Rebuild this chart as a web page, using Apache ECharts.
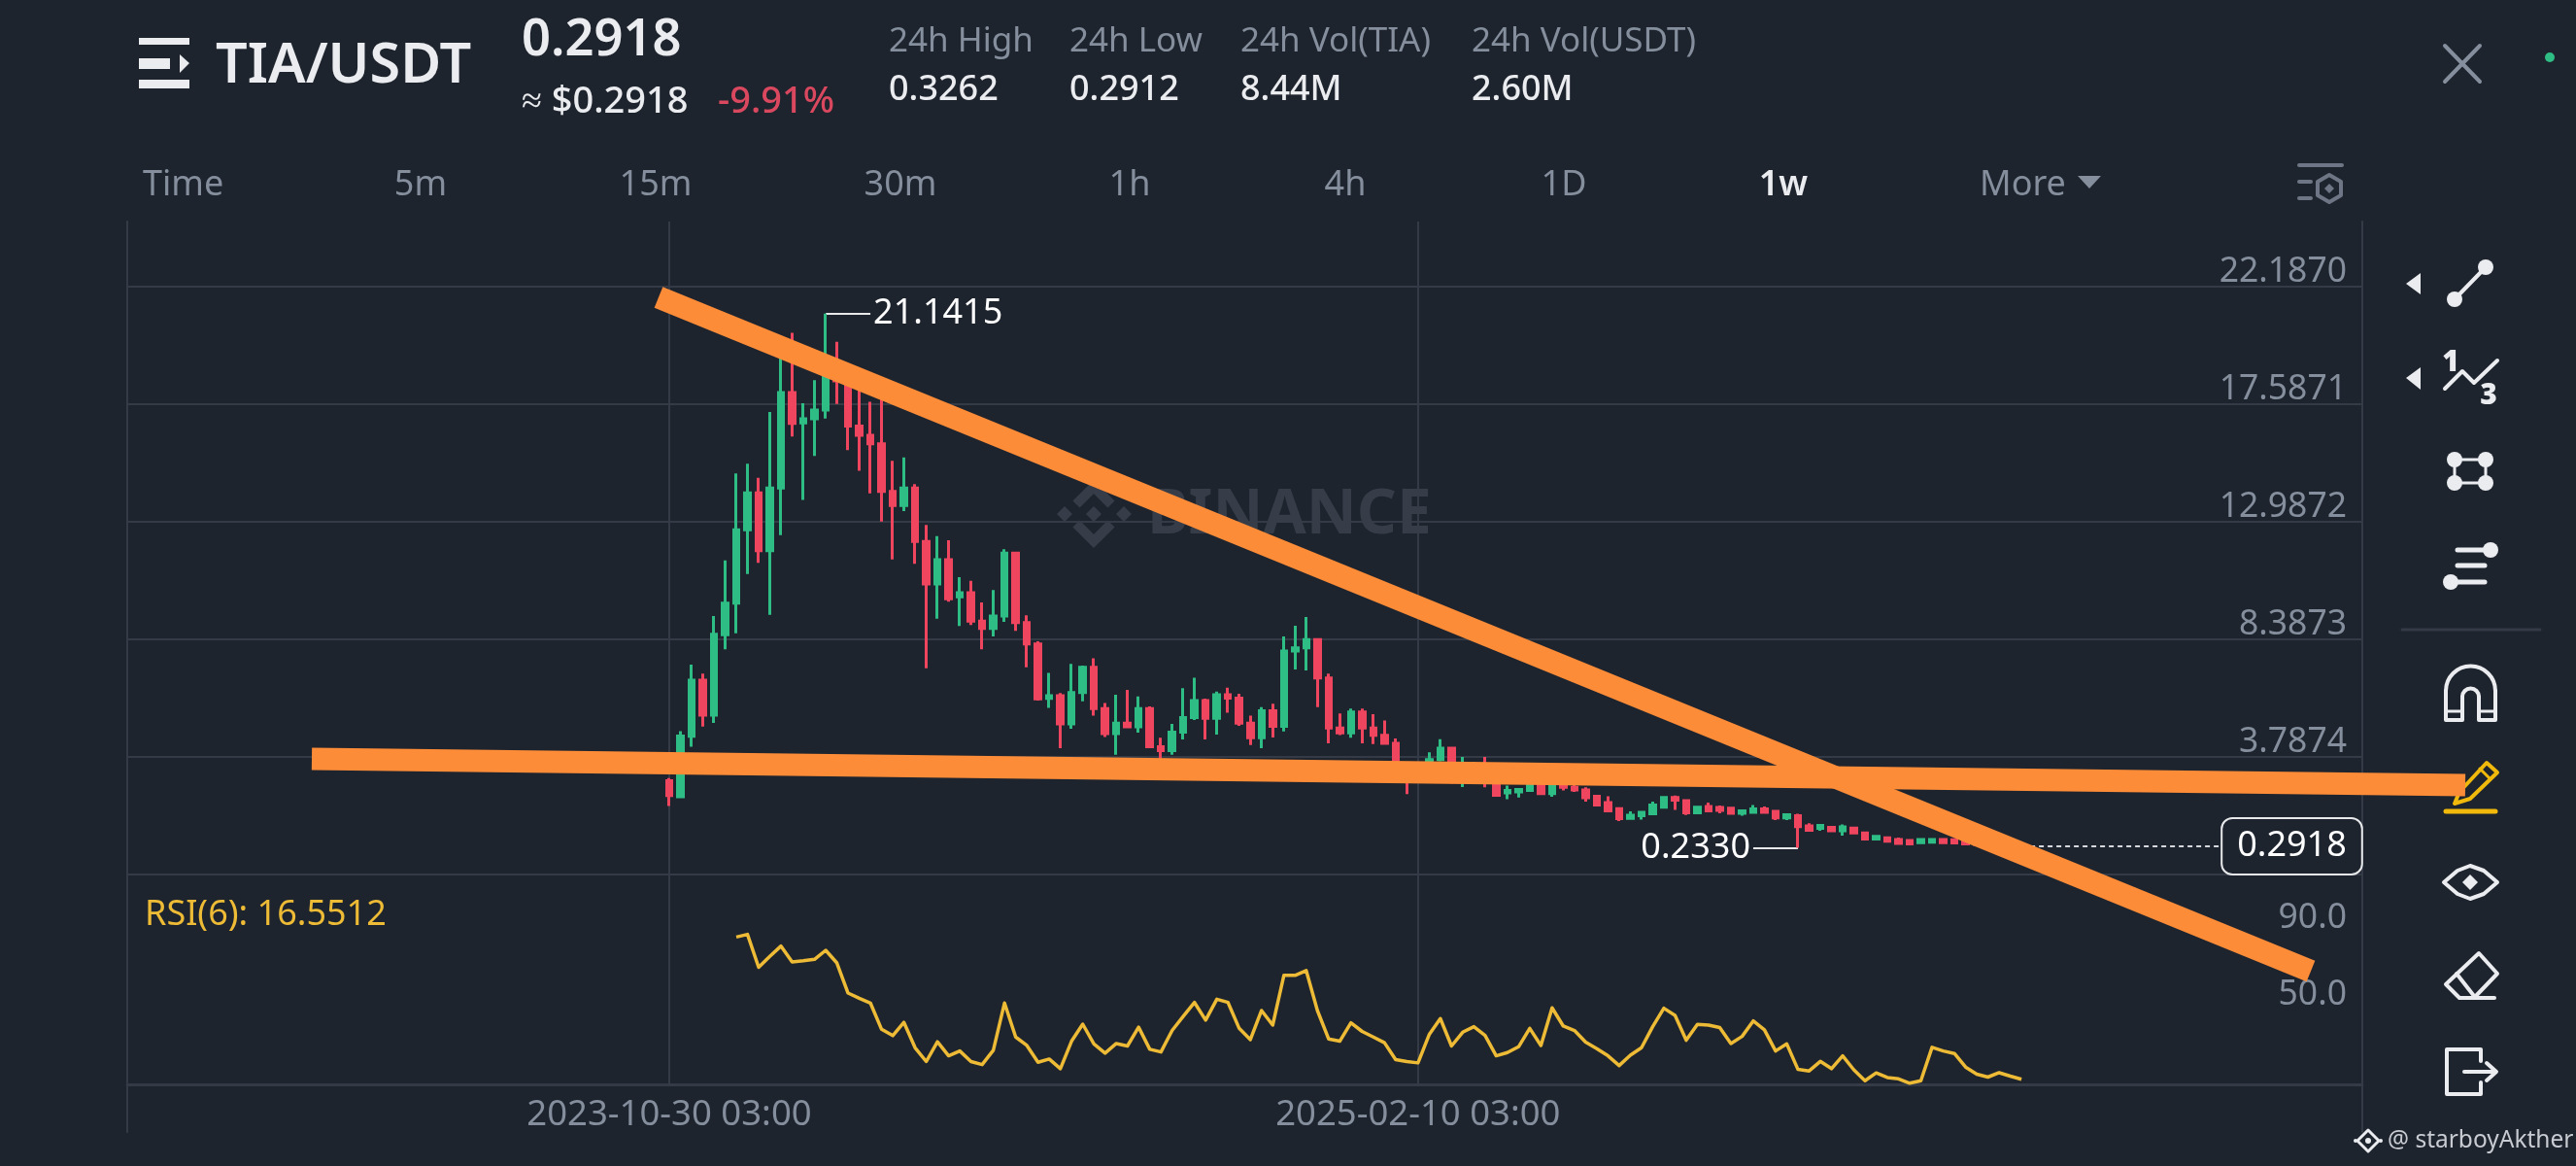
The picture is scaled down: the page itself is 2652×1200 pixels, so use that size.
<!DOCTYPE html>
<html><head><meta charset="utf-8">
<style>html,body{margin:0;padding:0;background:#1E242E}#c{width:2652px;height:1200px}</style>
<script src="https://cdn.jsdelivr.net/npm/echarts@6/dist/echarts.min.js"></script>
</head><body><div id="c"></div>
<script>
const firstCandleDate = '2023-10-30';
const leadingSlots = 48, totalSlots = 200, rsiStart = 6;
const opens = [2.86,2.23,4.60,6.79,5.42,8.57,9.81,12.68,14.12,11.86,14.31,18.05,16.86,17.02,17.36,18.77,18.5,16.74,16.37,16.04,14.18,13.63,14.31,12.22,10.56,11.51,10.05,10.21,9.10,8.82,9.30,11.76,9.05,8.21,6.08,6.18,5.08,6.31,7.30,5.68,4.70,5.11,4.97,5.68,4.19,4.04,4.76,5.33,5.99,5.30,6.22,6.09,5.11,4.54,5.59,4.99,7.93,8.06,8.38,6.88,4.92,4.73,5.55,4.92,4.63,4.32,3.52,3.0,3.2,3.68,4.13,2.9,3.1,3.2,2.9,2.38,2.42,2.48,2.67,2.35,2.67,2.60,2.5,2.25,2.00,1.76,1.38,1.49,1.56,1.82,2.20,2.08,1.60,1.85,1.81,1.78,1.58,1.62,1.75,1.66,1.40,1.49,1.09,0.99,1.03,0.90,1.0,0.81,0.58,0.62,0.56,0.52,0.43,0.45,0.56,0.55,0.48,0.39,0.37,0.38,0.35,0.3239];
const closes = [2.28,4.61,6.79,5.42,8.59,9.81,12.68,14.12,11.86,14.31,18.05,16.84,17.02,17.36,18.77,18.5,16.74,16.37,16.04,14.18,13.63,14.31,12.22,10.56,11.51,9.98,10.21,9.10,8.82,9.30,11.76,9.05,8.21,6.06,6.18,5.08,6.31,7.30,5.68,4.70,5.11,4.97,5.68,4.19,4.04,4.76,5.33,5.99,5.30,6.22,6.09,5.11,4.54,5.59,4.99,7.93,8.06,8.38,6.88,4.92,4.73,5.55,4.92,4.63,4.32,3.52,3.0,3.2,3.68,4.13,2.9,3.1,3.2,2.9,2.29,2.48,2.51,2.67,2.35,2.67,2.60,2.5,2.19,1.91,1.68,1.37,1.51,1.62,1.91,2.20,2.10,1.60,1.82,1.68,1.70,1.58,1.68,1.75,1.62,1.40,1.53,1.06,0.92,1.11,0.90,1.05,0.81,0.58,0.68,0.49,0.40,0.39,0.56,0.56,0.43,0.42,0.39,0.37,0.38,0.35,0.3239,0.2918];
const lows = [1.87,2.19,4.19,4.98,5.12,8.0,8.63,10.95,11.38,9.35,12.47,16.33,13.85,15.57,17.03,17.6,15.79,14.99,14.10,13.0,11.52,13.41,11.35,7.26,9.2,9.86,8.91,8.95,8.0,8.5,9.07,8.72,7.30,5.99,5.71,4.13,4.89,5.97,5.40,4.57,3.87,4.95,4.74,4.13,3.68,3.87,4.47,5.23,4.47,4.66,5.52,5.01,4.25,4.13,4.55,4.79,7.21,7.17,5.74,4.32,4.64,4.54,4.32,4.29,4.32,3.3,2.33,2.8,3.0,3.62,2.75,2.61,2.8,2.6,2.27,2.13,2.20,2.46,2.32,2.23,2.48,2.42,2.04,1.87,1.66,1.28,1.37,1.34,1.52,1.77,1.72,1.52,1.56,1.66,1.58,1.58,1.49,1.62,1.62,1.32,1.32,0.2330,0.92,0.90,0.86,0.71,0.81,0.56,0.57,0.48,0.40,0.38,0.40,0.44,0.42,0.41,0.38,0.36,0.36,0.34,0.32,0.2912];
const highs = [2.96,4.80,7.40,7.05,9.30,11.48,14.88,15.26,14.71,17.29,20.29,20.39,17.63,18.53,21.1415,20.03,18.84,18.2,17.69,17.88,15.38,15.51,14.46,12.87,12.43,12.27,10.82,10.68,9.83,10.32,11.92,11.80,9.33,8.31,7.08,6.29,7.43,7.36,7.65,5.90,6.22,6.41,6.16,5.77,4.54,5.08,6.48,6.89,6.07,6.35,6.50,6.26,5.40,5.74,5.87,8.50,8.92,9.26,8.40,7.05,5.49,5.68,5.68,5.46,5.21,4.51,3.6,3.3,3.97,4.48,4.13,3.79,3.6,3.79,3.0,2.67,2.57,2.9,2.9,2.85,2.85,2.8,2.6,2.29,2.25,1.82,1.66,1.65,2.04,2.25,2.28,2.10,1.85,2.0,1.89,1.81,1.70,1.91,1.85,1.66,1.55,1.56,1.19,1.13,1.07,1.15,1.06,0.83,0.69,0.65,0.63,0.54,0.57,0.57,0.60,0.60,0.5,0.41,0.40,0.39,0.36,0.3262];
const rsiValues = [90.7,92.1,74.9,80.6,86.0,77.7,78.3,79.1,83.8,77.2,61.5,58.8,56.3,42.6,39.3,46.2,33.0,25.8,36.1,28.8,31.3,25.8,24.2,31.7,56.3,38.6,34.2,25.4,27.1,22.1,36.4,45.3,35.0,30.2,35.2,33.9,43.7,32.2,30.8,42.0,49.4,56.6,47.4,58.3,56.6,43.1,37.2,52.4,44.8,70.7,70.7,73.2,52.4,37.6,36.4,46.0,41.5,38.6,35.6,26.8,25.8,25.1,39.8,48.2,33.9,41.1,44.0,39.4,28.8,30.5,33.5,43.1,34.2,53.8,44.3,42.0,35.9,32.5,28.8,23.7,29.1,33.0,44.0,53.6,49.9,36.9,45.2,44.8,43.5,35.2,38.9,47.0,42.3,31.3,35.0,21.7,20.9,25.9,22.1,28.8,21.5,15.8,19.9,17.5,16.8,14.5,15.8,33.2,31.3,30.0,22.9,19.2,17.7,20.0,18.2,16.55];
const priceTicks = [22.187,17.5871,12.9872,8.3873,3.7874];
const priceFloor = -0.8125;
const rsiTicks = [90,50];
const dateLabelIndex = [48,115];
const lastPrice = 0.2918, peakPrice = 21.1415, troughPrice = 0.2330;
const rsiLabel = 'RSI(6): 16.5512';
const pair = 'TIA/USDT', priceText = '0.2918', usdText = '≈ $0.2918', changeText = '-9.91%';
const statLabels = ['24h High','24h Low','24h Vol(TIA)','24h Vol(USDT)'];
const statValues = ['0.3262','0.2912','8.44M','2.60M'];
const tabs = ['Time','5m','15m','30m','1h','4h','1D','1w','More'];

const categories = [];
{ const t0 = Date.UTC(2023,9,30) - leadingSlots*7*864e5;
  for (let i=0;i<totalSlots;i++) categories.push(new Date(t0+i*7*864e5).toISOString().slice(0,10)); }
const pad = Array(leadingSlots).fill('-');
const candleData = pad.concat(opens.map((o,i)=>[o,closes[i],lows[i],highs[i]]));
const rsiData = Array(leadingSlots+rsiStart).fill('-').concat(rsiValues);

const BG='#1E242E', GRID='#343B47', GREY='#848E9C', WHITE='#EAECEF', GREEN='#2EBD85', RED='#F0455F', YEL='#EDBB35', ORG='#FD8C38', Y2='#F0B90B';
const FF='"Noto Sans"';
const T=(x,y,text,size,fill,opt={})=>({type:'text',x,y,silent:true,z:opt.z||50,style:{text,fontFamily:FF,fontSize:size,fontWeight:opt.w||400,fill,align:opt.a||'left',verticalAlign:'middle'}});
const L=(x1,y1,x2,y2,c,w,z=50,cap='round')=>({type:'line',silent:true,z,shape:{x1,y1,x2,y2},style:{stroke:c,lineWidth:w,lineCap:cap}});
const PL=(pts,c,w,z=50,cap='round',join='round')=>({type:'polyline',silent:true,z,shape:{points:pts},style:{stroke:c,lineWidth:w,fill:null,lineJoin:join,lineCap:cap}});
const PG=(pts,fill,stroke,w,z=50)=>({type:'polygon',silent:true,z,shape:{points:pts},style:{fill:fill||null,stroke:stroke||null,lineWidth:w||0,lineJoin:'round'}});
const C=(cx,cy,r,fill,z=50)=>({type:'circle',silent:true,z,shape:{cx,cy,r},style:{fill}});
const R=(x,y,width,height,fill,z=50)=>({type:'rect',silent:true,z,shape:{x,y,width,height},style:{fill}});
const A=(cx,cy,r,s,e,c,w,z=50)=>({type:'arc',silent:true,z,shape:{cx,cy,r,startAngle:s,endAngle:e,clockwise:true},style:{stroke:c,lineWidth:w,fill:null}});

const WM='#363D48', ICON='#6E7685';
const graphics = [
  // frame
  L(131,228,131,1165,GRID,2,1), L(2432,228,2432,1165,GRID,2,1),
  // header
  R(143,39,52,7,WHITE),R(143,60,32,11,WHITE),PG([[185,56],[195,65],[185,75]],WHITE),R(143,82,52,9,WHITE),
  T(222,69,pair,57.5,WHITE,{w:600}),
  T(537,42,priceText,52.5,WHITE,{w:600}),
  T(537,105,usdText,38,WHITE,{w:500}),
  T(739,105,changeText,38,'#D9485F',{w:500}),
  T(915,43,statLabels[0],35,GREY),T(1101,43,statLabels[1],35,GREY),T(1277,43,statLabels[2],35,GREY),T(1515,43,statLabels[3],35,GREY),
  T(915,93,statValues[0],36,WHITE,{w:500}),T(1101,93,statValues[1],36,WHITE,{w:500}),T(1277,93,statValues[2],36,WHITE,{w:500}),T(1515,93,statValues[3],36,WHITE,{w:500}),
  L(2517,47,2553,84,GREY,4),L(2553,47,2517,84,GREY,4),
  C(2625,59,5,'#2EBD85'),
  // tabs
  T(147,191,tabs[0],36,GREY),
  T(433,191,tabs[1],36,GREY,{a:'center'}),T(675,191,tabs[2],36,GREY,{a:'center'}),T(927,191,tabs[3],36,GREY,{a:'center'}),
  T(1163,191,tabs[4],36,GREY,{a:'center'}),T(1385,191,tabs[5],36,GREY,{a:'center'}),T(1610,191,tabs[6],36,GREY,{a:'center'}),
  T(1836,191,tabs[7],36,WHITE,{a:'center',w:600}),T(2038,191,tabs[8],36,GREY),
  PG([[2139,181],[2163,181],[2151,194]],GREY),
  // settings icon
  L(2367,170,2411,170,ICON,4),L(2367,187,2379,187,ICON,4),L(2367,204,2379,204,ICON,4),
  PG([[2398,180],[2410,187],[2410,201],[2398,208],[2386,201],[2386,187]],null,ICON,4),PG([[2398,189],[2403,194],[2398,199],[2393,194]],ICON),
  // RSI text
  T(149,942,rsiLabel,36,YEL),
  // toolbar
  PG([[2477,292],[2492,281],[2492,303]],WHITE),L(2527,308,2559,275,WHITE,4),C(2527,308,8,WHITE),C(2559,275,8,WHITE),
  PG([[2477,389],[2492,378],[2492,401]],WHITE),PL([[2517,400],[2535,382],[2547,394],[2571,371]],WHITE,4),
  T(2523,373,'1',30,WHITE,{w:900,a:'center'}),T(2562,407,'3',30,WHITE,{w:900,a:'center'}),
  L(2527,473,2559,473,WHITE,3),L(2527,497,2559,497,WHITE,3),L(2527,473,2527,497,WHITE,3),L(2559,473,2559,497,WHITE,3),
  C(2527,473,8,WHITE),C(2559,473,8,WHITE),C(2527,497,8,WHITE),C(2559,497,8,WHITE),
  L(2530,566,2564,566,WHITE,5),C(2564,566,8,WHITE),L(2530,582,2558,582,WHITE,5),L(2523,599,2558,599,WHITE,5),C(2523,599,8,WHITE),
  L(2473,648,2615,648,GRID,3),
  // magnet
  A(2543.5,711,25.5,Math.PI,2*Math.PI,WHITE,4),A(2543.5,717,8.5,Math.PI,2*Math.PI,WHITE,4),
  PL([[2518,711],[2518,741],[2535,741],[2535,717]],WHITE,4),PL([[2569,711],[2569,741],[2552,741],[2552,717]],WHITE,4),
  L(2518,732,2535,732,WHITE,3),L(2552,732,2569,732,WHITE,3),
  // pen
  PG([[2527,827],[2532,815],[2560,785],[2571,795],[2543,822]],null,Y2,4),L(2553,791,2564,802,Y2,3),L(2518,835,2569,835,Y2,5),
  // eye
  PL([[2516,908],[2530,896],[2543,891],[2557,896],[2571,908],[2557,920],[2543,925],[2530,920],[2516,908]],WHITE,4),PG([[2543,900],[2551,908],[2543,916],[2535,908]],WHITE),
  // eraser
  PG([[2518,1013],[2552,981],[2571,1002],[2547,1027],[2532,1027]],null,WHITE,4),L(2529,1002,2547,1025,WHITE,4),L(2547,1027,2568,1027,WHITE,4),
  // exit
  PL([[2554,1092],[2554,1080],[2519,1080],[2519,1126],[2554,1126],[2554,1114]],WHITE,4),L(2537,1103,2569,1103,WHITE,4),PL([[2560,1094],[2570,1103],[2560,1112]],WHITE,4),
  // credit
  PG([[2438,1163],[2449,1174],[2438,1185],[2427,1174]],null,WHITE,3),C(2438,1174,3,WHITE),
  C(2425,1174,2,WHITE),C(2451,1174,2,WHITE),
  T(2458,1174,'@ starboyAkther',24.5,'#C8CCD2'),
  // watermark
  PL([[1108,519],[1126,501],[1144,519]],WM,10,0,'butt','miter'),
  PL([[1108,539],[1126,557],[1144,539]],WM,10,0,'butt','miter'),
  PG([[1096,521],[1104,529],[1096,537],[1088,529]],WM,null,0,0),
  PG([[1126,521],[1134,529],[1126,537],[1118,529]],WM,null,0,0),
  PG([[1157,521],[1165,529],[1157,537],[1149,529]],WM,null,0,0),
  T(1181,531,'BINANCE',64,WM,{w:700,z:0}),
  // hand-drawn trend lines
  {type:'line',silent:true,z:90,shape:{x1:321,y1:781,x2:2538,y2:808},style:{stroke:ORG,lineWidth:23,lineCap:'butt'}},
  {type:'line',silent:true,z:90,shape:{x1:678,y1:306,x2:2379,y2:999.5},style:{stroke:ORG,lineWidth:23,lineCap:'butt'}}
];

const labelStyle={color:'#fff',fontFamily:FF,fontSize:36};
const option={
  backgroundColor:BG, animation:false,
  grid:[{left:131,right:220,top:228,height:672},{left:131,right:220,top:900,height:216}],
  xAxis:[
    {type:'category',gridIndex:0,data:categories,axisLine:{show:false},axisTick:{show:false},axisLabel:{show:false},
     splitLine:{show:true,alignWithLabel:true,interval:(i)=>dateLabelIndex.includes(i),lineStyle:{color:GRID,width:2}}},
    {type:'category',gridIndex:1,data:categories,axisLine:{show:true,lineStyle:{color:GRID,width:3}},axisTick:{show:false},
     axisLabel:{show:true,interval:(i)=>dateLabelIndex.includes(i),formatter:v=>v+' 03:00',color:GREY,fontFamily:FF,fontSize:36.5,margin:13},
     splitLine:{show:true,alignWithLabel:true,interval:(i)=>dateLabelIndex.includes(i),lineStyle:{color:GRID,width:2}}}
  ],
  yAxis:[
    {type:'value',gridIndex:0,position:'right',min:priceFloor,max:24.74,scale:true,axisLine:{show:false},
     axisTick:{show:false,customValues:[priceFloor].concat(priceTicks)},
     axisLabel:{inside:true,margin:16,customValues:priceTicks,formatter:v=>v.toFixed(4),color:GREY,fontFamily:FF,fontSize:35.5,align:'right',verticalAlign:'bottom',lineHeight:31},
     splitLine:{show:true,lineStyle:{color:GRID,width:2}}},
    {type:'value',gridIndex:1,position:'right',min:13.9,max:123.3,axisLine:{show:false},
     axisTick:{show:false,customValues:rsiTicks},
     axisLabel:{inside:true,margin:16,customValues:rsiTicks,formatter:v=>v.toFixed(1),color:GREY,fontFamily:FF,fontSize:35.5,align:'right',verticalAlign:'bottom',lineHeight:42},
     splitLine:{show:false}}
  ],
  series:[
    {type:'candlestick',xAxisIndex:0,yAxisIndex:0,data:candleData,barWidth:6,z:5,
     itemStyle:{color:GREEN,color0:RED,borderColor:GREEN,borderColor0:RED,borderWidth:3},
     markLine:{silent:true,symbol:'none',animation:false,data:[
       [{coord:[leadingSlots+14,peakPrice],lineStyle:{color:'#E6E8EA',width:2,type:'solid'},label:{show:true,position:'end',formatter:String(peakPrice),distance:3,padding:[6,0,0,0],...labelStyle}},{coord:[leadingSlots+18,peakPrice]}],
       [{coord:[leadingSlots+101,troughPrice],lineStyle:{color:'#E6E8EA',width:2,type:'solid'},label:{show:true,position:'end',formatter:troughPrice.toFixed(4),distance:3,padding:[6,0,0,0],...labelStyle}},{coord:[leadingSlots+97,troughPrice]}],
       [{coord:[leadingSlots+121,lastPrice],lineStyle:{color:'#D5D8DC',width:2,type:[5,4]},label:{show:true,position:'end',formatter:lastPrice.toFixed(4),distance:0,backgroundColor:BG,borderColor:'#E6E8EA',borderWidth:2,borderRadius:10,padding:[10,15,10,15],...labelStyle}},{coord:[187,lastPrice]}]
     ]}},
    {type:'line',xAxisIndex:1,yAxisIndex:1,data:rsiData,showSymbol:false,symbol:'none',connectNulls:false,z:5,lineStyle:{color:YEL,width:3.5,join:'round'}}
  ],
  graphic:{elements:graphics}
};
const chart=echarts.init(document.getElementById('c'),null,{renderer:'canvas',width:2652,height:1200});
chart.setOption(option);
</script></body></html>
